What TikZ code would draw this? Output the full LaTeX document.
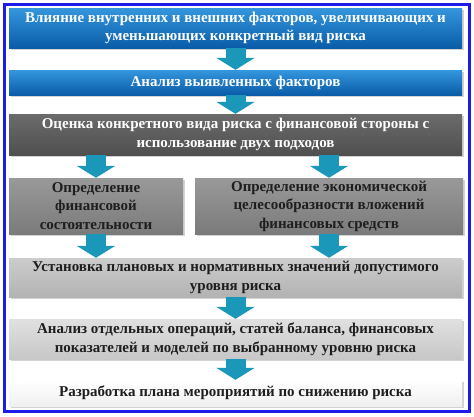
\documentclass[tikz,border=0pt]{standalone}
\usepackage{fontspec}
\setmainfont{Liberation Serif}
\usetikzlibrary{arrows.meta,shadows}

\definecolor{frameblue}{HTML}{1C1CE8}
\definecolor{bluetop}{HTML}{3496DD}
\definecolor{bluebot}{HTML}{0A5CA8}
\definecolor{arrowteal}{HTML}{1B98B9}
\definecolor{inktext}{HTML}{1E1E1E}

\begin{document}
\begin{tikzpicture}[x=1pt, y=-1pt,
	stage/.style={rectangle, inner sep=2pt, align=center, minimum width=453pt,
		font=\fontsize{15}{18.5}\selectfont\bfseries,
		drop shadow={shadow xshift=1.5pt, shadow yshift=-2pt, opacity=0.35}},
	bluestage/.style={stage, text=white, top color=bluetop, bottom color=bluebot},
	flow/.style={draw=arrowteal, line width=20pt, -{Triangle[length=12pt, width=38pt]}}]
	\useasboundingbox (0,0) rectangle (474,416);

	% outer frame
	\draw[frameblue, line width=3pt] (4.5,4.5) rectangle (469.5,411.5);

	% boxes
	\node[bluestage, minimum height=40pt] (factors) at (235.5,28) {Влияние внутренних и внешних факторов, увеличивающих и\\уменьшающих конкретный вид риска};
	\node[bluestage, minimum height=25pt] (analysis) at (235.5,82.5) {Анализ выявленных факторов};
	\node[stage, text=white, top color=black!58, bottom color=black!69, minimum height=41pt] (estimate) at (235.5,134.5) {Оценка конкретного вида риска с финансовой стороны с\\использование двух подходов};
	\node[stage, text=inktext, top color=black!40, bottom color=black!52, minimum width=174pt, minimum height=56pt] (solvency) at (96,206) {Определение\\финансовой\\состоятельности};
	\node[stage, text=inktext, top color=black!40, bottom color=black!52, minimum width=268pt, minimum height=56pt] (invest) at (329,206) {Определение экономической\\целесообразности вложений\\финансовых средств};
	\node[stage, text=inktext, top color=black!20, bottom color=black!30, minimum height=39pt] (levels) at (235.5,277.5) {Установка плановых и нормативных значений допустимого\\уровня риска};
	\node[stage, text=inktext, top color=black!12, bottom color=black!22, minimum height=40pt] (operations) at (235.5,339) {Анализ отдельных операций, статей баланса, финансовых\\показателей и моделей по выбранному уровню риска};
	\node[stage, text=inktext, top color=white, bottom color=black!6, minimum height=26pt] (plan) at (235.5,393) {Разработка плана мероприятий по снижению риска};

	% arrows
	\draw[flow] (factors.south) -- (analysis.north);
	\draw[flow] (analysis.south) -- (estimate.north);
	\draw[flow] (estimate.south -| solvency.north) -- (solvency.north);
	\draw[flow] (estimate.south -| invest.north) -- (invest.north);
	\draw[flow] (solvency.south) -- (levels.north -| solvency.south);
	\draw[flow] (invest.south) -- (levels.north -| invest.south);
	\draw[flow] (levels.south) -- (operations.north);
	\draw[flow] (operations.south) -- (plan.north);
\end{tikzpicture}
\end{document}
